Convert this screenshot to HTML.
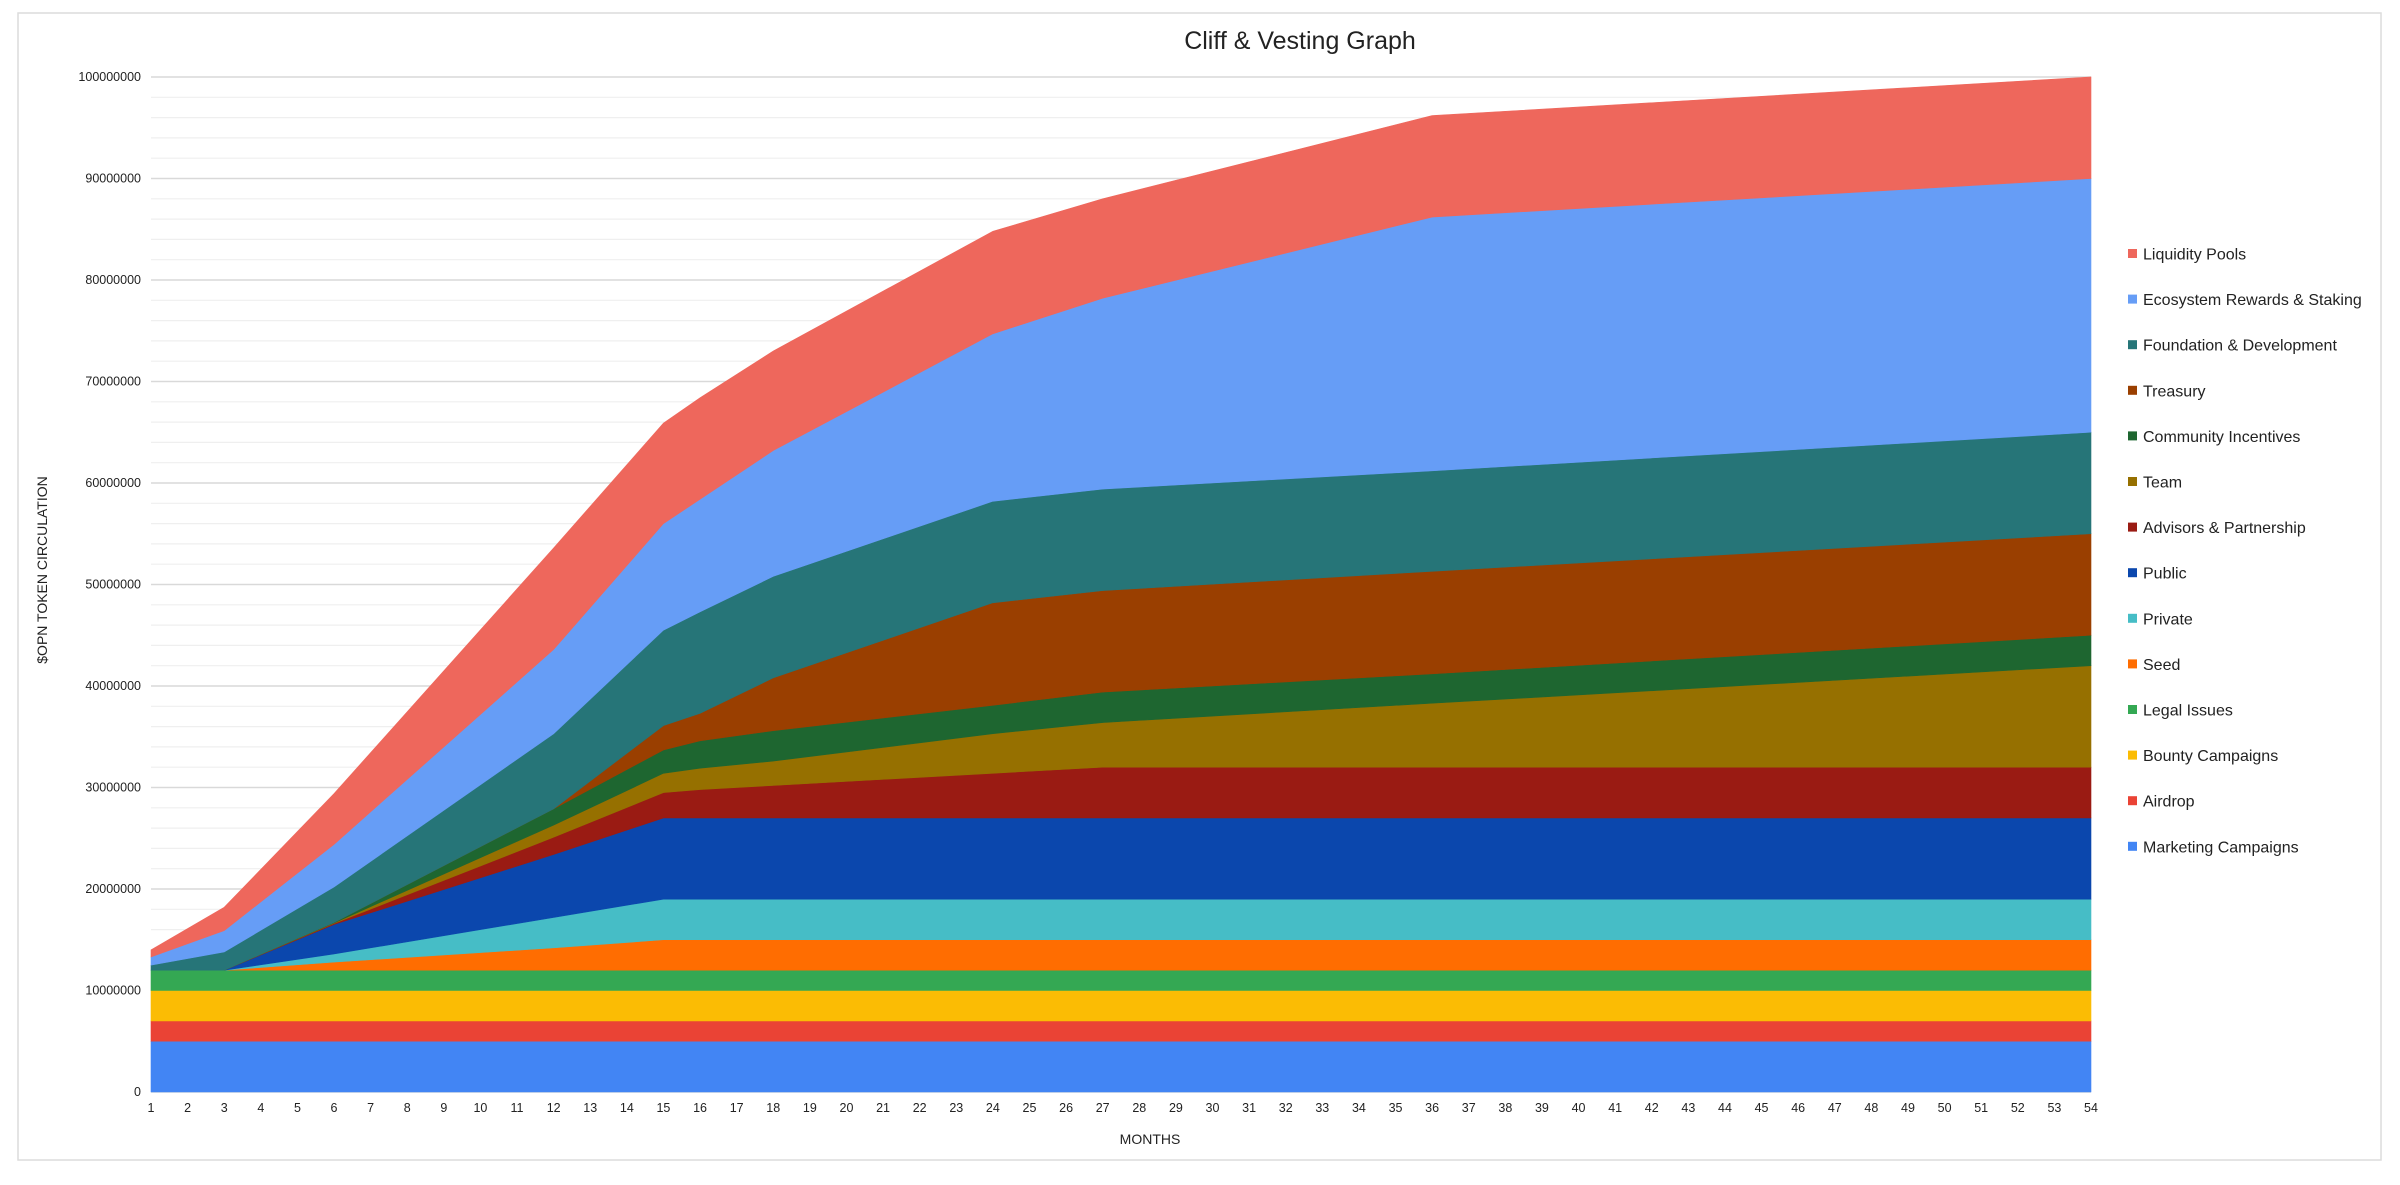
<!DOCTYPE html>
<html><head><meta charset="utf-8">
<style>
html,body{margin:0;padding:0;background:#fff;}
svg{display:block;font-family:"Liberation Sans",Arial,sans-serif;}
</style></head>
<body>
<svg id="chart" width="2400" height="1185" viewBox="0 0 2400 1185">
<rect x="18" y="13" width="2363" height="1147" fill="#fff" stroke="#dcdcdc" stroke-width="1.5"/>
<text x="1300" y="49" text-anchor="middle" font-size="25" fill="#222">Cliff &amp; Vesting Graph</text>
<text transform="translate(47,570) rotate(-90)" text-anchor="middle" font-size="14" fill="#222">$OPN TOKEN CIRCULATION</text>
<text x="1150" y="1144" text-anchor="middle" font-size="14" fill="#222">MONTHS</text>
<g id="grid"></g><g id="areas"></g><g id="yticks"></g><g id="xticks"></g><g id="legend"></g>
</svg>
<script>
const months = [1,3,6,12,15,16,18,24,27,36,54];
const seriesNames = ["Marketing Campaigns","Airdrop","Bounty Campaigns","Legal Issues","Seed","Private","Public","Advisors & Partnership","Team","Community Incentives","Treasury","Foundation & Development","Ecosystem Rewards & Staking","Liquidity Pools"];
const seriesColors = ["#4285f4","#ea4335","#fbbc04","#34a853","#ff6d01","#46bdc6","#0b47ad","#9a1b13","#967000","#1e6630","#9a3f00","#267578","#669df6","#ee675c"];
// values in millions of tokens
const marketing  = [5,5,5,5,5,5,5,5,5,5,5];
const airdrop    = [2,2,2,2,2,2,2,2,2,2,2];
const bounty     = [3,3,3,3,3,3,3,3,3,3,3];
const legal      = [2,2,2,2,2,2,2,2,2,2,2];
const seed       = [0,0,0.8,2.2,3,3,3,3,3,3,3];
const privateS   = [0,0,0.8,3.0,4,4,4,4,4,4,4];
const publicS    = [0,0,2.9,6.2,8,8,8,8,8,8,8];
const advisors   = [0,0,0.1,1.7,2.5,2.8,3.2,4.4,5,5,5];
const team       = [0,0,0.05,1.2,1.9,2.1,2.4,3.9,4.4,6.3,10];
const community  = [0,0,0.05,1.6,2.3,2.7,3.0,2.8,3.0,2.9,3];
const treasury   = [0,0,0,0,2.4,2.7,5.2,10.1,10,10.1,10];
const foundation = [0.5,1.8,3.5,7.4,9.4,10,10,10,10,9.9,10];
const ecosystem  = [0.8,2.1,4.2,8.3,10.5,11.1,12.4,16.5,18.8,25,25];
const liquidity  = [0.7,2.3,5.0,10,9.9,10,9.8,10.1,9.8,10,10];
const yTickValues = [0,10000000,20000000,30000000,40000000,50000000,60000000,70000000,80000000,90000000,100000000];
const xTickLabels = Array.from({length:54},(_,i)=>i+1);

const seriesData = [marketing,airdrop,bounty,legal,seed,privateS,publicS,advisors,team,community,treasury,foundation,ecosystem,liquidity];
const X0=151, X1=2091, Y0=1092, Y1=77;
function xScale(m){return X0+(m-1)*(X1-X0)/53;}
function yScale(v){return Y0-(v/100)*(Y0-Y1);}
const NS="http://www.w3.org/2000/svg";
function mk(tag,attrs,parent){const e=document.createElementNS(NS,tag);for(const k in attrs)e.setAttribute(k,attrs[k]);parent.appendChild(e);return e;}

const grid=document.getElementById('grid');
for(let i=0;i<=50;i++){
  const v=i*2, y=yScale(v), major=(i%5===0);
  const l=mk('line',{x1:X0,x2:X1,y1:y,y2:y,stroke:major?'#d9d9d9':'#efefef','stroke-width':major?1.5:1.2},grid);
  
  
}
const areas=document.getElementById('areas');
let base=months.map(()=>0);
seriesData.forEach((s,si)=>{
  const top=base.map((b,i)=>b+s[i]);
  let d='M'+months.map((m,i)=>xScale(m)+','+yScale(top[i])).join(' L');
  for(let i=months.length-1;i>=0;i--) d+=' L'+xScale(months[i])+','+yScale(base[i]);
  d+=' Z';
  const p=mk('path',{d:d,fill:seriesColors[si],stroke:seriesColors[si],'stroke-width':0.6},areas);
  
  
  base=top;
});
const yt=document.getElementById('yticks');
yTickValues.forEach(v=>{
  const t=mk('text',{x:141,y:yScale(v/1e6)+4,'text-anchor':'end','font-size':12.5,fill:'#222'},yt);
  t.textContent=String(v);
  
  
});
const xt=document.getElementById('xticks');
xTickLabels.forEach(m=>{
  const t=mk('text',{x:xScale(m),y:1112,'text-anchor':'middle','font-size':12.5,fill:'#222'},xt);
  t.textContent=String(m);
  
  
});
const lg=document.getElementById('legend');
for(let k=0;k<14;k++){
  const si=13-k, y=254+k*45.6;
  const g=mk('g',{},lg);
  
  
  const r=mk('rect',{x:2128,y:y-5,width:9,height:9,fill:seriesColors[si]},g);
  
  
  const t=mk('text',{x:2143,y:y+5.5,'font-size':16,fill:'#222'},g);
  t.textContent=seriesNames[si];
  
  
}
</script>
</body></html>
